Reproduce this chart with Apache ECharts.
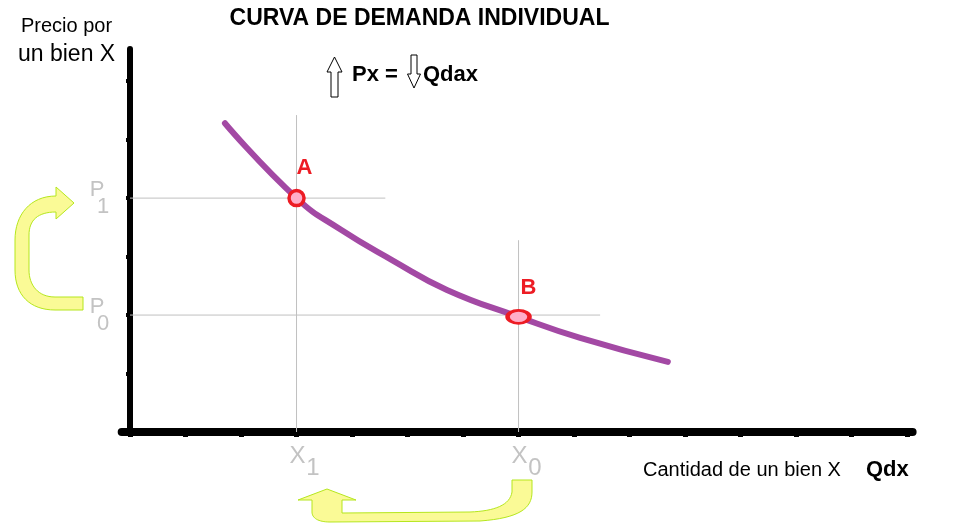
<!DOCTYPE html>
<html><head><meta charset="utf-8">
<script src="https://cdn.jsdelivr.net/npm/echarts@6/dist/echarts.min.js"></script>
<style>html,body{margin:0;padding:0;background:#fff}#c{width:957px;height:529px}</style>
</head><body><div id="c"></div>
<script>
// ---- data ----
const xTicks = [0,1,2,3,4,5,6,7,8,9,10,11,12,13,14];
const yTicks = [1,2,3,4,5,6];
const curveX = [1.71, 3.0, 3.78, 4.72, 5.71, 7.0, 8.11, 9.69];
const curveY = [5.28, 4.0, 3.47, 2.94, 2.43, 1.97, 1.61, 1.20];
const pointNames = ['A', 'B'];
const pointX = [3, 7];
const pointY = [4, 1.97];
const priceNames = ['1', '0'];      // P1, P0
const priceValues = [4, 2];
const qtyNames = ['1', '0'];        // X1, X0
const qtyValues = [3, 7];
const hGuideEnd = [4.6, 8.47];
const vGuideEnd = [5.42, 3.28];

const FONT = "'Liberation Sans', Arial, sans-serif";
const GRAY = '#C3C3C3';
const chart = echarts.init(document.getElementById('c'), null, {renderer: 'canvas'});

const series = [];
priceValues.forEach((p, i) => {
  series.push({type: 'line', data: [[0, p], [hGuideEnd[i], p]], symbol: 'none', silent: true,
    lineStyle: {color: '#c0c0c0', width: 1}, z: 1});
});
qtyValues.forEach((q, i) => {
  series.push({type: 'line', data: [[q, 0], [q, vGuideEnd[i]]], symbol: 'none', silent: true,
    lineStyle: {color: '#c0c0c0', width: 1}, z: 1});
});
series.push({type: 'line', data: curveX.map((x, i) => [x, curveY[i]]), smooth: 0.5, symbol: 'none',
  lineStyle: {color: '#A349A4', width: 6, cap: 'round', join: 'round'}, z: 3});
series.push({type: 'scatter', z: 5, clip: false,
  data: pointNames.map((n, i) => ({
    value: [pointX[i], pointY[i]], name: n,
    symbolSize: i === 0 ? [15, 15] : [22, 13],
    label: {offset: i === 0 ? [8, -5] : [10, -5]}
  })),
  itemStyle: {color: '#FFAEC9', borderColor: '#ED1C24', borderWidth: 3.5, opacity: 1},
  label: {show: true, position: 'top', distance: 5, formatter: p => p.name,
    color: '#ED1C24', fontFamily: FONT, fontWeight: 'bold', fontSize: 22}
});

chart.setOption({
  animation: false,
  grid: {left: 121.7, right: 44.4, top: 49, bottom: 97},
  xAxis: {type: 'value', min: -0.15, max: 14.1,
    axisLine: {show: true, onZero: true, lineStyle: {color: '#000', width: 8}},
    axisTick: {show: true, customValues: xTicks, length: 5, inside: false, lineStyle: {color: '#000', width: 5}},
    axisLabel: {show: false}, splitLine: {show: false}},
  yAxis: {type: 'value', min: 0, max: 6.55,
    axisLine: {show: true, onZero: true, lineStyle: {color: '#000', width: 6}},
    axisTick: {show: true, customValues: yTicks, length: 4, inside: false, lineStyle: {color: '#000', width: 4}},
    axisLabel: {show: false}, splitLine: {show: false}},
  series: series
});

// sample a simple absolute SVG-like path (M, L, C) into polygon points
function samplePath(d) {
  const tok = d.trim().split(/[\s,]+/);
  const pts = []; let i = 0, cx = 0, cy = 0, cmd = '';
  while (i < tok.length) {
    if (/^[MLCZ]$/.test(tok[i])) { cmd = tok[i++]; if (cmd === 'Z') continue; }
    if (cmd === 'M' || cmd === 'L') { cx = +tok[i++]; cy = +tok[i++]; pts.push([cx, cy]); }
    else if (cmd === 'C') {
      const x1 = +tok[i++], y1 = +tok[i++], x2 = +tok[i++], y2 = +tok[i++], x3 = +tok[i++], y3 = +tok[i++];
      for (let k = 1; k <= 16; k++) {
        const t = k / 16, u = 1 - t;
        pts.push([u*u*u*cx + 3*u*u*t*x1 + 3*u*t*t*x2 + t*t*t*x3, u*u*u*cy + 3*u*u*t*y1 + 3*u*t*t*y2 + t*t*t*y3]);
      }
      cx = x3; cy = y3;
    } else i++;
  }
  return pts;
}

// axis-anchored labels
const g = [];
priceValues.forEach((p, i) => {
  const pt = chart.convertToPixel({gridIndex: 0}, [0, p]);
  g.push({type: 'text', style: {text: 'P', x: pt[0] - 33, y: pt[1] - 8.5, font: `22px ${FONT}`, fill: GRAY, textAlign: 'center', textVerticalAlign: 'middle'}});
  g.push({type: 'text', style: {text: priceNames[i], x: pt[0] - 27, y: pt[1] + 9, font: `22px ${FONT}`, fill: GRAY, textAlign: 'center', textVerticalAlign: 'middle'}});
});
qtyValues.forEach((q, i) => {
  const pt = chart.convertToPixel({gridIndex: 0}, [q, 0]);
  g.push({type: 'text', style: {text: 'X', x: pt[0] + 1, y: pt[1] + 24.5, font: `24px ${FONT}`, fill: GRAY, textAlign: 'center', textVerticalAlign: 'middle'}});
  g.push({type: 'text', style: {text: qtyNames[i], x: pt[0] + 16.5, y: pt[1] + 36, font: `24px ${FONT}`, fill: GRAY, textAlign: 'center', textVerticalAlign: 'middle'}});
});

// titles & axis names
g.push({type: 'text', style: {text: 'CURVA DE DEMANDA INDIVIDUAL', x: 419.5, y: 18.5, font: `bold 23px ${FONT}`, fill: '#000', textAlign: 'center', textVerticalAlign: 'middle'}});
g.push({type: 'text', style: {text: 'Precio por', x: 21, y: 26.5, font: `20px ${FONT}`, fill: '#000', textAlign: 'left', textVerticalAlign: 'middle'}});
g.push({type: 'text', style: {text: 'un bien X', x: 18, y: 55, font: `23px ${FONT}`, fill: '#000', textAlign: 'left', textVerticalAlign: 'middle'}});
g.push({type: 'text', style: {text: 'Cantidad de un bien X', x: 643, y: 470, font: `20px ${FONT}`, fill: '#000', textAlign: 'left', textVerticalAlign: 'middle'}});
g.push({type: 'text', style: {text: 'Qdx', x: 866, y: 470, font: `bold 22px ${FONT}`, fill: '#000', textAlign: 'left', textVerticalAlign: 'middle'}});
g.push({type: 'text', style: {text: 'Px =', x: 352, y: 75, font: `bold 22px ${FONT}`, fill: '#000', textAlign: 'left', textVerticalAlign: 'middle'}});
g.push({type: 'text', style: {text: 'Qdax', x: 423, y: 75, font: `bold 22px ${FONT}`, fill: '#000', textAlign: 'left', textVerticalAlign: 'middle'}});
// outline arrows in the formula
g.push({type: 'polygon', shape: {points: [[334.5,57],[342,72],[338,72],[338,97],[331,97],[331,72],[327,72]]}, style: {fill: '#fff', stroke: '#000', lineWidth: 1}});
g.push({type: 'polygon', shape: {points: [[411,55],[417,55],[417,74],[420.5,74],[414,88],[407.5,74],[411,74]]}, style: {fill: '#fff', stroke: '#000', lineWidth: 1}});
// yellow curved arrows
g.push({type: 'polygon', z: 10, shape: {points: samplePath('M 56 196 C 30 196 15 215 15 240 L 15 270 C 15 295 30 310 55 310 L 83 310 L 83 297 L 55 297 C 38 297 29 285 29 270 L 29 235 C 29 220 38 212 56 212 L 56 219 L 74 203 L 56 187 Z')},
  style: {fill: '#FAFA96', stroke: '#B5E61D', lineWidth: 1}});
g.push({type: 'polygon', z: 10, shape: {points: samplePath('M 327 489 L 356 500 L 342 500 L 342 513 L 470 512 C 495 511 510 505 512 492 L 512 480 L 532 480 L 532 492 C 532 508 520 518 480 521 L 330 522 C 318 522 312 518 312 512 L 312 500 L 298 500 Z')},
  style: {fill: '#FAFA96', stroke: '#B5E61D', lineWidth: 1}});

chart.setOption({graphic: g});
</script></body></html>
